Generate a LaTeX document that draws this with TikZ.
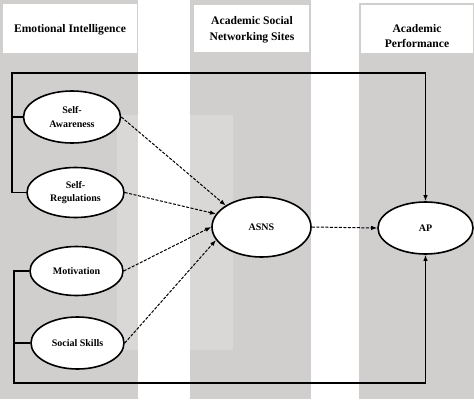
\documentclass[tikz,border=0pt]{standalone}
\usepackage{fontspec}
\setmainfont{Liberation Serif}
\usetikzlibrary{shapes.geometric,arrows.meta}
\definecolor{colgray}{HTML}{D1CECE}
\definecolor{lightgray2}{HTML}{DAD7D7}
\begin{document}
\begin{tikzpicture}[x=1pt,y=-1pt,
  hdr/.style={font=\fontsize{11.6}{15.5}\selectfont\bfseries, align=center, inner sep=0pt},
  ell/.style={ellipse, draw=black, line width=1.6pt, fill=white, inner sep=0pt,
    font=\fontsize{10}{13.5}\selectfont\bfseries, align=center},
  frame/.style={line width=1.2pt, draw=black},
  tip/.style={-{Latex[length=6pt,width=4.5pt]}},
  dasharrow/.style={line width=1pt, dash pattern=on 3pt off 1.5pt, -{Latex[length=6pt,width=4.5pt]}}
]
\useasboundingbox (0,0) rectangle (474,402);
\fill[white] (0,0) rectangle (474,402);
% columns
\fill[colgray] (0,0) rectangle (138,399);
\fill[colgray] (190,0) rectangle (311,399);
\fill[colgray] (359,3) rectangle (474,399);
\fill[lightgray2] (117,115) rectangle (138,350);
\fill[lightgray2] (190,115) rectangle (233,350);
% header boxes
\fill[white] (3,4) rectangle (137,53);
\fill[white] (194,5) rectangle (309,52);
\fill[white] (361,5) rectangle (473,53);
\node[hdr] (h1) at (70,30) {Emotional Intelligence};
\node[hdr] (h2) at (252,30) {Academic Social\\Networking Sites};
\node[hdr] (h3) at (417,36) {Academic\\Performance};
% nodes
\node[ell, minimum width=97pt, minimum height=52pt] (sa) at (72,117) {Self-\\Awareness};
\node[ell, minimum width=97pt, minimum height=50pt] (sr) at (75.5,192.5) {Self-\\Regulations};
\node[ell, minimum width=93pt, minimum height=49pt] (mo) at (76.5,271) {Motivation};
\node[ell, minimum width=93pt, minimum height=52pt] (ss) at (77.5,343) {Social Skills};
\node[ell, minimum width=99pt, minimum height=60pt] (asns) at (261.5,227) {ASNS};
\node[ell, minimum width=95pt, minimum height=52pt] (ap) at (425.5,228) {AP};
% frame corners
\coordinate (tl) at (12,73);
\coordinate (bl) at (14,383);
\draw[frame, tip] (sr.west) -| (tl) -| (ap.north);
\draw[frame] (sa.west) -- (sa.west -| tl);
\draw[frame, tip] (mo.west) -| (bl) -| (ap.south);
\draw[frame] (ss.west) -- (ss.west -| bl);
% dashed arrows
\draw[dasharrow] (sa.east) -- (asns.149);
\draw[dasharrow] (sr.east) -- (asns.164);
\draw[dasharrow] (mo.east) -- (asns.180);
\draw[dasharrow] (ss.east) -- (asns.196);
\draw[dasharrow] (asns.east) -- (ap.west);
\end{tikzpicture}
\end{document}
